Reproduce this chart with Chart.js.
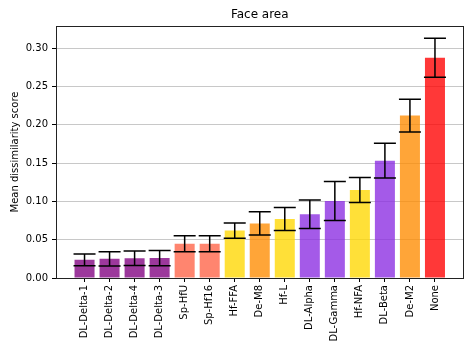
<!DOCTYPE html>
<html>
<head>
<meta charset="utf-8">
<script src="https://cdn.jsdelivr.net/npm/chart.js@4/dist/chart.umd.min.js"></script>
<style>
  html, body { margin: 0; padding: 0; background: #fff; }
  #wrap { width: 474px; height: 355px; }
</style>
</head>
<body>
<div id="wrap"><canvas id="c" width="474" height="355"></canvas></div>
<script>
const title = 'Face area';
const yAxisLabel = 'Mean dissimilarity score';
const categories = ['DL-Delta-1','DL-Delta-2','DL-Delta-4','DL-Delta-3','Sp-HfU','Sp-Hf16','Hf-FFA','De-M8','Hf-L','DL-Alpha','DL-Gamma','Hf-NFA','DL-Beta','De-M2','None'];
const means  = [0.0237,0.0250,0.0258,0.0260,0.0448,0.0447,0.0619,0.0713,0.0770,0.0832,0.1005,0.1149,0.1532,0.2120,0.2875];
const errors = [0.0077,0.0092,0.0094,0.0100,0.0105,0.0104,0.0099,0.0152,0.0150,0.0185,0.0255,0.0163,0.0228,0.0214,0.0255];
const yTicks = [0.00,0.05,0.10,0.15,0.20,0.25,0.30];

const C_DELTA = 'rgba(128,0,128,0.78)';
const C_SP    = 'rgba(255,99,71,0.78)';
const C_HF    = 'rgba(255,215,0,0.78)';
const C_DE    = 'rgba(255,140,0,0.78)';
const C_DL    = 'rgba(138,43,226,0.78)';
const C_NONE  = 'rgba(255,0,0,0.78)';
const barColors = [C_DELTA,C_DELTA,C_DELTA,C_DELTA,C_SP,C_SP,C_HF,C_DE,C_HF,C_DL,C_DL,C_HF,C_DL,C_DE,C_NONE];

Chart.defaults.font.family = "'DejaVu Sans', sans-serif";
Chart.defaults.color = '#000';

const errorBars = {
  id: 'errorBars',
  afterDatasetsDraw(chart) {
    const ctx = chart.ctx, xs = chart.scales.x, ys = chart.scales.y;
    ctx.save();
    ctx.strokeStyle = '#000';
    ctx.lineWidth = 1.5;
    means.forEach((m, i) => {
      const x = xs.getPixelForValue(i);
      const yt = ys.getPixelForValue(m + errors[i]);
      const yb = ys.getPixelForValue(m - errors[i]);
      ctx.beginPath();
      ctx.moveTo(x, yt); ctx.lineTo(x, yb);
      ctx.moveTo(x - 11, yt); ctx.lineTo(x + 11, yt);
      ctx.moveTo(x - 11, yb); ctx.lineTo(x + 11, yb);
      ctx.stroke();
    });
    ctx.restore();
  }
};

const frameAndTitle = {
  id: 'frameAndTitle',
  afterDraw(chart) {
    const ctx = chart.ctx, a = chart.chartArea;
    ctx.save();
    ctx.strokeStyle = '#222';
    ctx.lineWidth = 1;
    ctx.strokeRect(Math.round(a.left) + 0.5, Math.round(a.top) + 0.5,
                   Math.round(a.right - a.left) - 1, Math.round(a.bottom - a.top));
    ctx.fillStyle = '#000';
    ctx.font = "12px 'DejaVu Sans', sans-serif";
    ctx.textAlign = 'center';
    ctx.textBaseline = 'middle';
    ctx.fillText(title, (a.left + a.right) / 2, 15);
    ctx.restore();
  }
};

new Chart(document.getElementById('c'), {
  type: 'bar',
  data: {
    datasets: [{
      data: means.map((v, i) => ({ x: i, y: v })),
      backgroundColor: barColors,
      borderWidth: 0,
      categoryPercentage: 1.0,
      barPercentage: 0.8
    }]
  },
  options: {
    responsive: false,
    animation: false,
    layout: { padding: { top: 26, right: 10.5, bottom: 0, left: 0 } },
    plugins: { legend: { display: false }, tooltip: { enabled: false }, title: { display: false } },
    scales: {
      x: {
        type: 'linear',
        offset: false,
        min: -1.14,
        max: 15.14,
        afterBuildTicks: s => { s.ticks = categories.map((c, i) => ({ value: i })); },
        afterFit: s => { s.height = 77; },
        border: { display: false },
        grid: { offset: false, drawOnChartArea: false, drawTicks: true, tickLength: 4, color: '#000', tickColor: '#000', lineWidth: 1 },
        ticks: {
          autoSkip: false,
          maxRotation: 90,
          minRotation: 90,
          padding: 3,
          font: { size: 10 },
          callback: v => categories[v] ?? ''
        }
      },
      y: {
        min: 0,
        max: 0.329,
        afterBuildTicks: s => { s.ticks = yTicks.map(v => ({ value: v })); },
        afterFit: s => { s.width = 56; },
        border: { display: false },
        grid: { color: '#c8c8c8', lineWidth: 1, drawTicks: true, tickLength: 4, tickColor: '#000' },
        ticks: { padding: 4, font: { size: 10 }, callback: v => Number(v).toFixed(2) },
        title: { display: true, text: yAxisLabel, font: { size: 10 }, padding: { top: 9, bottom: 0 } }
      }
    }
  },
  plugins: [errorBars, frameAndTitle]
});
</script>
</body>
</html>
